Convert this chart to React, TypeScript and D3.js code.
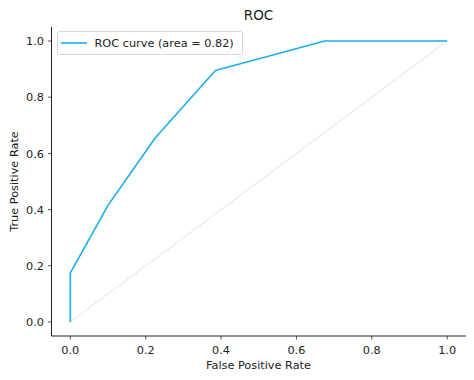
import React from "react";
import * as d3 from "d3";

const fpr = [0, 0, 0.1, 0.225, 0.385, 0.675, 1.0];
const tpr = [0, 0.175, 0.415, 0.655, 0.895, 1.0, 1.0];
const xTicks = [0, 0.2, 0.4, 0.6, 0.8, 1.0];
const yTicks = [0, 0.2, 0.4, 0.6, 0.8, 1.0];
const diagX = [0, 1];
const diagY = [0, 1];
const legendLabel = "ROC curve (area = 0.82)";

export default function App() {
  const W = 474, H = 380;
  const left = 51.5, right = 466, top = 27, bottom = 336;
  const x = d3.scaleLinear().domain([-0.05, 1.05]).range([left, right]);
  const y = d3.scaleLinear().domain([-0.05, 1.05]).range([bottom, top]);
  const line = d3.line<[number, number]>().x(d => x(d[0])).y(d => y(d[1]));
  const roc = line(fpr.map((v, i) => [v, tpr[i]] as [number, number])) || "";
  const diag = line(diagX.map((v, i) => [v, diagY[i]] as [number, number])) || "";
  const font = "'DejaVu Sans', sans-serif";
  const color = "#1aaeea";
  const fs = 11.3;
  return (
    <svg width={W} height={H} style={{ position: "absolute", left: 0, top: 0 }} fontFamily={font}>
      <rect width={W} height={H} fill="#fff" />
      <path d={diag} stroke="#e3e3e3" strokeWidth={1} fill="none" />
      <path d={roc} stroke={color} strokeWidth={1.6} fill="none" strokeLinejoin="round" />
      <line x1={left} x2={left} y1={top} y2={bottom} stroke="#222" strokeWidth={1} />
      <line x1={left} x2={right} y1={bottom} y2={bottom} stroke="#222" strokeWidth={1} />
      {xTicks.map(t => (
        <g key={"x" + t}>
          <line x1={x(t)} x2={x(t)} y1={bottom} y2={bottom + 3.5} stroke="#222" strokeWidth={0.8} />
          <text x={x(t)} y={bottom + 18} fontSize={fs} textAnchor="middle" fill="#222">{t.toFixed(1)}</text>
        </g>
      ))}
      {yTicks.map(t => (
        <g key={"y" + t}>
          <line x1={left - 3.5} x2={left} y1={y(t)} y2={y(t)} stroke="#222" strokeWidth={0.8} />
          <text x={left - 7.5} y={y(t) + 4.2} fontSize={fs} textAnchor="end" fill="#222">{t.toFixed(1)}</text>
        </g>
      ))}
      <text x={258.5} y={368.5} fontSize={fs} textAnchor="middle" fill="#222">False Positive Rate</text>
      <text transform={`translate(18,${(top + bottom) / 2}) rotate(-90)`} fontSize={fs} textAnchor="middle" fill="#222">True Positive Rate</text>
      <text x={258.5} y={20} fontSize={13.5} textAnchor="middle" fill="#222">ROC</text>
      <rect x={57.5} y={31.5} width={185} height={23} rx={2} fill="#fff" fillOpacity={0.8} stroke="#d6d6d6" strokeWidth={1} />
      <line x1={61} x2={87} y1={43} y2={43} stroke={color} strokeWidth={1.6} />
      <text x={94.5} y={47.2} fontSize={fs} fill="#222">{legendLabel}</text>
    </svg>
  );
}
